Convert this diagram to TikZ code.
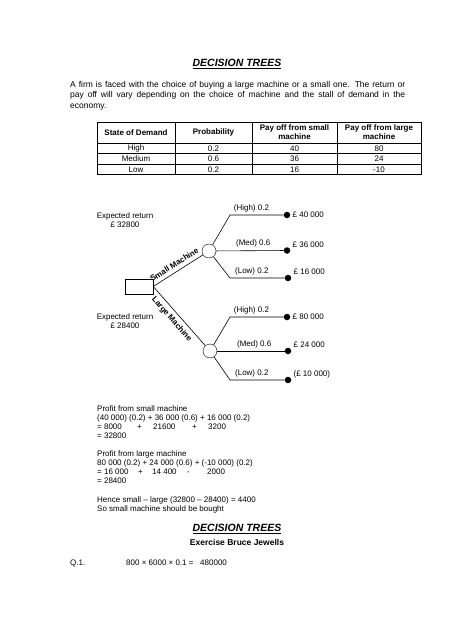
\documentclass[tikz,border=0pt]{standalone}
\usepackage{fontspec}
\setmainfont{Liberation Sans}
\usetikzlibrary{positioning}

\begin{document}
\begin{tikzpicture}[
  x=1pt,y=-1pt,
  every node/.style={font=\fontsize{8}{9}\selectfont,inner sep=0pt},
  bold/.style={font=\fontsize{8}{9}\selectfont\bfseries},
  decbox/.style={draw,minimum width=28pt,minimum height=15pt},
  chance/.style={draw,circle,minimum size=14pt},
  leaf/.style={circle,fill=black,minimum size=6.5pt},
  arm/.style={line width=0.6pt},
  rule/.style={line width=0.5pt}
]
\fill[white] (0,0) rectangle (474,632);
\useasboundingbox (0,0) rectangle (474,632);

% heading and text
\node[font=\fontsize{10.5}{12}\selectfont\bfseries\itshape] (title) at (237,64) {\underline{DECISION TREES}};
\node[anchor=north west,text width=335pt,align=justify,font=\fontsize{8.5}{10.5}\selectfont] (intro) at (70,81)
  {A firm is faced with the choice of buying a large machine or a small one. The return or\linebreak
   pay off will vary depending on the choice of machine and the stall of demand in the\linebreak
   economy.};

% table
\foreach \y in {122,143,153.5,164,174.5}
  \draw[rule] (97,\y) -- (421,\y);
\foreach \x in {97,175,252,337,421}
  \draw[rule] (\x,122) -- (\x,174.5);
\foreach \x/\t [count=\i] in {136/State of Demand,213.5/Probability,294.5/{Pay off from small\\machine},379/{Pay off from large\\machine}}
  \node[bold,align=center] (head\i) at (\x,132.5) {\t};
\foreach \y/\a/\b/\c/\d [count=\i] in {148.3/High/0.2/40/80,158.8/Medium/0.6/36/24,169.3/Low/0.2/16/-10}{
  \node (st\i) at (136,\y) {\a};
  \node (pr\i) at (213.5,\y) {\b};
  \node (ps\i) at (294.5,\y) {\c};
  \node (pl\i) at (379,\y) {\d};
}

% decision tree
\node[decbox] (dbox) at (139,286.5) {};
\node[chance] (smallc) at (209,251) {};
\node[chance] (largec) at (210,351) {};
\draw[arm] (dbox.east) -- node[bold,sloped,anchor=south,inner ysep=4pt,pos=0.5] (smlab) {Small Machine} (smallc);
\draw[arm] (dbox.east) -- node[bold,sloped,anchor=north,inner ysep=4pt,pos=0.47] (lmlab) {Large Machine} (largec);

\node[align=center] (sret) at (125,220) {Expected return\\£ 32800};
\node[align=center] (lret) at (125,321.5) {Expected return\\£ 28400};

\coordinate (shk) at (230,215);
\coordinate (slk) at (230,278);
\node[leaf] (sh) at (287,215) {};
\node[leaf] (sm) at (287,250.5) {};
\node[leaf] (sl) at (288,278) {};
\draw[arm] (smallc) -- (shk) -- node[above=3pt,pos=0.4] (shp) {(High) 0.2} (sh);
\draw[arm] (smallc) -- node[above=3pt,pos=0.55] (smp) {(Med) 0.6} (sm);
\draw[arm] (smallc) -- (slk) -- node[above=3pt,pos=0.4] (slp) {(Low) 0.2} (sl);
\node[right=2pt of sh] (shv) {£ 40 000};
\node[right=2pt of sm,yshift=6pt] (smv) {£ 36 000};
\node[right=2pt of sl,yshift=6pt] (slv) {£ 16 000};

\coordinate (lhk) at (230,317);
\coordinate (llk) at (230,380);
\node[leaf] (lh) at (287,317) {};
\node[leaf] (lm) at (288,351) {};
\node[leaf] (ll) at (288,380) {};
\draw[arm] (largec) -- (lhk) -- node[above=3pt,pos=0.4] (lhp) {(High) 0.2} (lh);
\draw[arm] (largec) -- node[above=3pt,pos=0.55] (lmp) {(Med) 0.6} (lm);
\draw[arm] (largec) -- (llk) -- node[above=3pt,pos=0.4] (llp) {(Low) 0.2} (ll);
\node[right=2pt of lh] (lhv) {£ 80 000};
\node[right=2pt of lm,yshift=6pt] (lmv) {£ 24 000};
\node[right=2pt of ll,yshift=6pt] (llv) {(£ 10 000)};

% working
\node[anchor=north west,align=left] (small) at (97,405) {Profit from small machine\\
  (40 000) (0.2) + 36 000 (0.6) + 16 000 (0.2)\\
  \makebox[40pt][l]{= 8000}\makebox[16pt][l]{+}\makebox[39pt][l]{21600}\makebox[16pt][l]{+}3200\\
  = 32800};
\node[anchor=north west,align=left] (large) at (97,450) {Profit from large machine\\
  80 000 (0.2) + 24 000 (0.6) + (-10 000) (0.2)\\
  \makebox[41pt][l]{= 16 000}\makebox[14pt][l]{+}\makebox[35pt][l]{14 400}\makebox[20pt][l]{-}2000\\
  = 28400};
\node[anchor=north west,align=left] (hence) at (97,496) {Hence small -- large (32800 -- 28400) = 4400\\
  So small machine should be bought};

\node[font=\fontsize{10.5}{12}\selectfont\bfseries\itshape] (title2) at (237,529) {\underline{DECISION TREES}};
\node[font=\fontsize{8.5}{10}\selectfont\bfseries] (exer) at (237,542) {Exercise Bruce Jewells};
\node[anchor=west] (q1) at (70,563) {Q.1.};
\node[anchor=west] (q1calc) at (126,563) {800 × 6000 × 0.1 = \ \ 480000};
\end{tikzpicture}
\end{document}
